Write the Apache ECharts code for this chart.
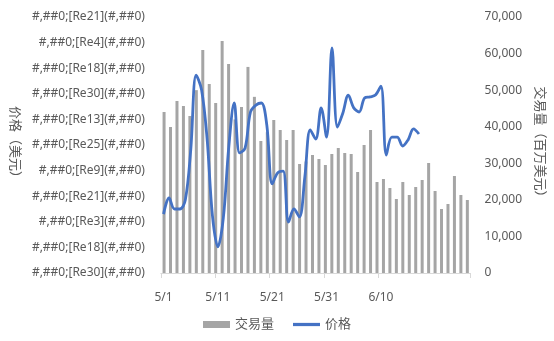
<!DOCTYPE html>
<html>
<head>
<meta charset="utf-8">
<script src="https://cdn.jsdelivr.net/npm/echarts@6/dist/echarts.min.js"></script>
<style>
html,body{margin:0;padding:0;background:#fff;}
#chart{width:554px;height:341px;}
</style>
</head>
<body>
<div id="chart"></div>
<script>
// Date axis categories (5/1 .. 6/26)
const axisDates = ['5/1','5/2','5/3','5/4','5/5','5/6','5/7','5/8','5/9','5/10',
  '5/11','5/12','5/13','5/14','5/15','5/16','5/17','5/18','5/19','5/20',
  '5/21','5/22','5/23','5/24','5/25','5/26','5/27','5/28','5/29','5/30',
  '5/31','6/1','6/2','6/3','6/4','6/5','6/6','6/7','6/8','6/9',
  '6/10','6/11','6/12','6/13','6/14','6/15','6/16','6/17','6/18','6/19',
  '6/20','6/21','6/22','6/23','6/24','6/25','6/26'];
// Data dates (5/1 .. 6/17)
const dataDates = ['5/1','5/2','5/3','5/4','5/5','5/6','5/7','5/8','5/9','5/10',
  '5/11','5/12','5/13','5/14','5/15','5/16','5/17','5/18','5/19','5/20',
  '5/21','5/22','5/23','5/24','5/25','5/26','5/27','5/28','5/29','5/30',
  '5/31','6/1','6/2','6/3','6/4','6/5','6/6','6/7','6/8','6/9',
  '6/10','6/11','6/12','6/13','6/14','6/15','6/16','6/17'];
// 交易量 (百万美元)
const volume = [44020,39920,47030,45660,42930,50000,60980,51680,46490,63440,
  57150,42000,45390,56350,48170,36100,38500,41840,39100,36370,
  39100,29810,30500,32270,31170,29530,32540,34180,32810,32540,
  27620,35000,39100,24880,25700,23240,20230,24880,21330,23520,
  25430,30080,22420,17500,18870,26520,21330,19960];
// 价格 (left-axis units)
const price = [23.0,29.3,25.0,25.0,28.5,48.0,77.3,71.5,52.7,22.3,
  10.2,21.5,49.2,66.4,46.9,48.8,62.9,65.6,66.4,57.8,
  34.8,39.1,39.8,19.9,25.0,21.9,37.5,55.9,52.3,64.5,
  53.1,87.9,57.0,62.5,69.5,64.5,62.9,68.4,68.8,69.5,
  73.0,46.1,53.1,53.1,49.6,52.0,56.3,54.3];
// Left axis tick labels (bottom to top)
const leftLabels = ['#,##0;[Re30](#,##0)','#,##0;[Re18](#,##0)','#,##0;[Re3](#,##0)',
  '#,##0;[Re21](#,##0)','#,##0;[Re9](#,##0)','#,##0;[Re25](#,##0)','#,##0;[Re13](#,##0)',
  '#,##0;[Re30](#,##0)','#,##0;[Re18](#,##0)','#,##0;[Re4](#,##0)','#,##0;[Re21](#,##0)'];
const shownDateIdx = [0,10,20,30,40];

const FONT = '"Noto Sans","Noto Sans CJK SC",sans-serif';
const TXT = '#595959';

const chart = echarts.init(document.getElementById('chart'), null, {renderer:'canvas'});
chart.setOption({
  animation:false,
  backgroundColor:'#fff',
  textStyle:{fontFamily:FONT},
  grid:{left:159.3, right:83, top:17, bottom:68, containLabel:false},
  legend:{
    top:313, left:'center', itemGap:19, itemWidth:27, itemHeight:7,
    textStyle:{color:TXT, fontSize:13, fontFamily:FONT},
    data:[{name:'交易量', icon:'rect'},{name:'价格', icon:'path://M0 0H30V3.6H0Z'}]
  },
  xAxis:[
    {type:'category', data:axisDates, boundaryGap:true, position:'bottom',
     axisLine:{show:true, lineStyle:{color:'#D9D9D9', width:1}},
     axisTick:{show:true, length:5, lineStyle:{color:'#D9D9D9'},
       interval:function(i){return shownDateIdx.indexOf(i)>=0;}},
     axisLabel:{color:TXT, fontSize:12, fontFamily:FONT, margin:19,
       interval:function(i){return shownDateIdx.indexOf(i)>=0;}},
     splitLine:{show:false}},
    {type:'category', data:dataDates, boundaryGap:true, position:'bottom',
     axisLine:{show:false}, axisTick:{show:false}, axisLabel:{show:false}, splitLine:{show:false}}
  ],
  yAxis:[
    {type:'value', min:0, max:100, interval:10, position:'left',
     name:'价格（美元）', nameLocation:'middle', nameGap:139, nameRotate:-90,
     nameTextStyle:{color:TXT, fontSize:13, fontFamily:FONT},
     axisLine:{show:false}, axisTick:{show:false}, splitLine:{show:false},
     axisLabel:{color:TXT, fontSize:12, fontFamily:FONT, margin:16,
       formatter:function(v){return leftLabels[Math.round(v/10)];}}},
    {type:'value', min:0, max:70000, interval:10000, position:'right',
     name:'交易量（百万美元）', nameLocation:'middle', nameGap:61, nameRotate:-90,
     nameTextStyle:{color:TXT, fontSize:13, fontFamily:FONT},
     axisLine:{show:false}, axisTick:{show:false}, splitLine:{show:false},
     axisLabel:{color:TXT, fontSize:12, fontFamily:FONT, margin:14,
       formatter:function(v){return v.toLocaleString('en-US');}}}
  ],
  series:[
    {name:'交易量', type:'bar', xAxisIndex:1, yAxisIndex:1, data:volume,
     barWidth:3, itemStyle:{color:'#A5A5A5'}, z:2},
    {name:'价格', type:'line', xAxisIndex:0, yAxisIndex:0, data:price,
     smooth:0.35, symbol:'none', showSymbol:false,
     lineStyle:{color:'#4472C4', width:2.8}, itemStyle:{color:'#4472C4'}, z:3}
  ]
});
</script>
</body>
</html>
